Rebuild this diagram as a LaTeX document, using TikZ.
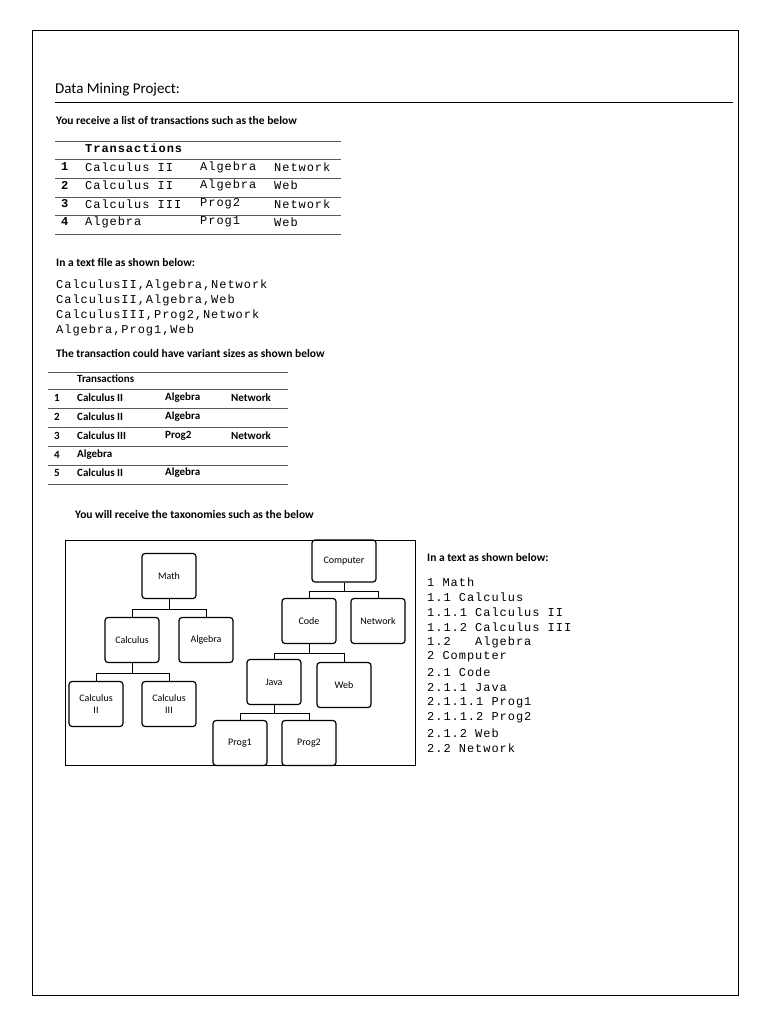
\documentclass[tikz,border=0pt]{standalone}
\usepackage{fontspec}
\setmainfont{Carlito}
\newfontfamily\mono[LetterSpace=8]{Liberation Mono}
\begin{document}
\begin{tikzpicture}[x=1pt,y=-1pt,
  bt/.style={anchor=west,inner sep=0,font=\fontsize{11.5}{13}\selectfont\bfseries},
  mt/.style={anchor=west,inner sep=0,font=\fontsize{12}{13}\mono},
  t2/.style={anchor=west,inner sep=0,font=\fontsize{11}{13}\selectfont\bfseries},
  tx/.style={draw,line width=1.2pt,rounded corners=3pt,minimum width=54pt,minimum height=45pt,align=center,font=\fontsize{10}{12}\selectfont},
  bus/.style={line width=1pt}]
\useasboundingbox (0,0) rectangle (768,1024);
\draw[line width=0.8pt] (32,30) rectangle (738,995);
\node[anchor=west,inner sep=0,font=\fontsize{15}{17}\selectfont] (title) at (55,90) {Data Mining Project:};
\draw[line width=0.8pt] (55,102) -- (733,102);
\node[bt] (p1) at (56,121) {You receive a list of transactions such as the below};
% table 1
\foreach \y in {141,159,178,197,215,234} \draw[gray!70!black,line width=0.6pt] (55,\y) -- (341,\y);
\node[mt,font=\fontsize{12}{13}\mono\bfseries] (h1) at (85,148) {Transactions};
\foreach \n/\y/\a/\b/\c in {1/167/Calculus II/Algebra/Network,2/185/Calculus II/Algebra/Web,3/204/Calculus III/Prog2/Network,4/222/Algebra/Prog1/Web}{
  \node[mt,font=\fontsize{12}{13}\mono\bfseries] at (61,\y) {\n};
  \node[mt] at (85,\y) {\a};
  \node[mt] at (200,\y) {\b};
  \node[mt] at (274,\y) {\c};}
\node[bt] (p2) at (56,262) {In a text file as shown below:};
\foreach \t/\y in {{CalculusII,Algebra,Network}/285,{CalculusII,Algebra,Web}/300,{CalculusIII,Prog2,Network}/315,{Algebra,Prog1,Web}/330}
  \node[mt] at (56,\y) {\t};
\node[bt] (p3) at (56,353) {The transaction could have variant sizes as shown below};
% table 2
\foreach \y in {372,389,408,427,446,465,484} \draw[gray!70!black,line width=0.6pt] (48,\y) -- (288,\y);
\node[t2] (h2) at (77,379) {Transactions};
\foreach \n/\y/\a/\b/\c in {1/398/Calculus II/Algebra/Network,2/417/Calculus II/Algebra/,3/436/Calculus III/Prog2/Network,4/455/Algebra//,5/473/Calculus II/Algebra/}{
  \node[t2] at (54,\y) {\n};
  \node[t2] at (77,\y) {\a};
  \node[t2] at (165,\y) {\b};
  \node[t2] at (231,\y) {\c};}
\node[bt] (p4) at (75,515) {You will receive the taxonomies such as the below};
% taxonomy
\draw[line width=0.8pt] (65,540) rectangle (415,765);
\node[tx] (math) at (169,576) {Math};
\node[tx] (calc) at (132,640) {Calculus};
\node[tx] (alg) at (206,640) {Algebra};
\node[tx] (c2) at (96,704) {Calculus\\II};
\node[tx] (c3) at (169,704) {Calculus\\III};
\node[tx,minimum width=64pt,minimum height=42pt] (comp) at (344,561) {Computer};
\node[tx] (code) at (309,621) {Code};
\node[tx] (net) at (378,621) {Network};
\node[tx] (java) at (274,682) {Java};
\node[tx] (web) at (344,685) {Web};
\node[tx] (p1n) at (240,743) {Prog1};
\node[tx] (p2n) at (309,743) {Prog2};
\draw[bus] (math.south) -- ++(0,10) -| (calc.north);
\draw[bus] (math.south) ++(0,10) -| (alg.north);
\draw[bus] (calc.south) -- ++(0,10) -| (c2.north);
\draw[bus] (calc.south) ++(0,10) -| (c3.north);
\draw[bus] (comp.south) -- ++(0,9) -| (code.north);
\draw[bus] (comp.south) ++(0,9) -| (net.north);
\draw[bus] (code.south) -- ++(0,9) -| (java.north);
\draw[bus] (code.south) ++(0,9) -| (web.north);
\draw[bus] (java.south) -- ++(0,8) -| (p1n.north);
\draw[bus] (java.south) ++(0,8) -| (p2n.north);
\node[bt] (p5) at (427,558) {In a text as shown below:};
\foreach \t/\y in {{1 Math}/582,{1.1 Calculus}/597,{1.1.1 Calculus II}/612,{1.1.2 Calculus III}/627,{1.2\ \ \ Algebra}/642,{2 Computer}/657,{2.1 Code}/672,{2.1.1 Java}/688,{2.1.1.1 Prog1}/703,{2.1.1.2 Prog2}/718,{2.1.2 Web}/733,{2.2 Network}/748}
  \node[mt] at (427,\y) {\t};
\end{tikzpicture}
\end{document}
